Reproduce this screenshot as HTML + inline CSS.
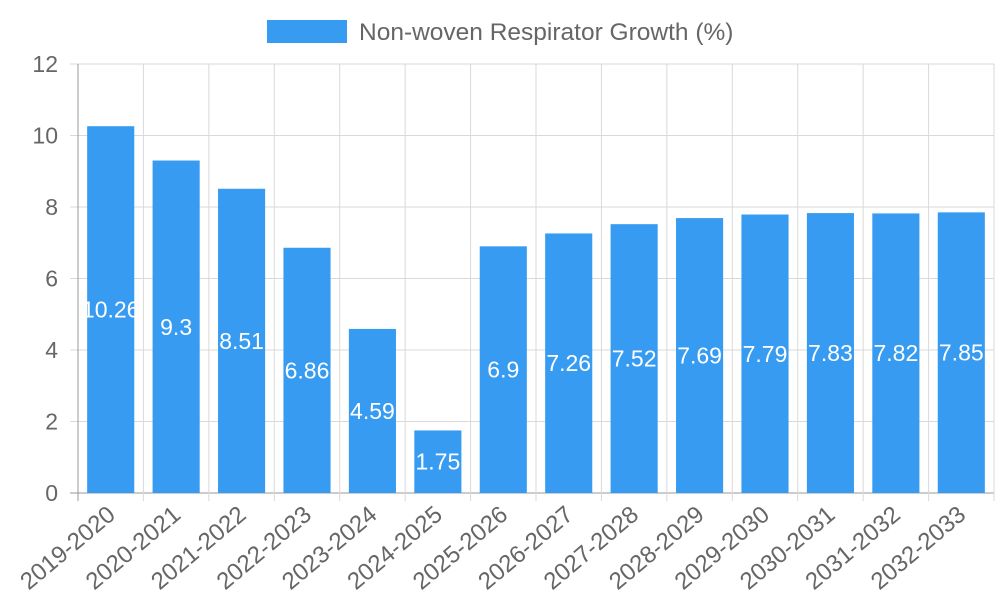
<!DOCTYPE html>
<html><head><meta charset="utf-8"><style>
body{margin:0;background:#fff;}
svg text{font-family:"Liberation Sans",sans-serif;}
</style></head><body>
<svg id="chart" width="1000" height="600">
<g id="grid"></g>
<g id="bars"></g>
<g id="axes"></g>
<g>
<rect x="267" y="20" width="80" height="23" fill="#379cf1"></rect>
<text x="359" y="40" font-size="24.5" fill="#666">Non-woven Respirator Growth (%)</text>
</g>
</svg>
<script>
const categories=["2019-2020","2020-2021","2021-2022","2022-2023","2023-2024","2024-2025","2025-2026","2026-2027","2027-2028","2028-2029","2029-2030","2030-2031","2031-2032","2032-2033"];
const values=[10.26,9.3,8.51,6.86,4.59,1.75,6.9,7.26,7.52,7.69,7.79,7.83,7.82,7.85];
const yTicks=[0,2,4,6,8,10,12];
const L=78,R=994,T=64,B=493,yMax=12;
const bw=(R-L)/categories.length;
const x=i=>L+bw*i;
const y=v=>B-(v/yMax)*(B-T);
const ns="http://www.w3.org/2000/svg";
function mk(tag,attrs,parent,txt){const e=document.createElementNS(ns,tag);for(const k in attrs)e.setAttribute(k,attrs[k]);if(txt!==undefined)e.textContent=txt;parent.appendChild(e);return e;}
const grid=document.getElementById('grid'),bars=document.getElementById('bars'),axes=document.getElementById('axes');
yTicks.forEach(t=>{
 const l=mk('line',{x1:L-8,x2:R,y1:y(t),y2:y(t),stroke:t===0?'#999':'#d9d9d9','stroke-width':1},grid);
 
 
 const tx=mk('text',{x:L-20,y:y(t)+8,'text-anchor':'end','font-size':23,fill:'#666'},axes,String(t));
 
 
});
for(let i=0;i<=categories.length;i++){
 const l=mk('line',{x1:x(i),x2:x(i),y1:T,y2:B+8,stroke:i===0?'#999':'#d9d9d9','stroke-width':1},grid);
 
 
}
categories.forEach((c,i)=>{
 const cx=x(i)+bw/2,w=bw*0.72;
 const r=mk('rect',{x:cx-w/2,y:y(values[i]),width:w,height:B-y(values[i]),fill:'#379cf1'},bars);
 
 
 const lb=mk('text',{x:cx,y:(y(values[i])+B)/2+8,'text-anchor':'middle','font-size':23,fill:'#fff'},bars,String(values[i]));
 
 
 const ax=cx+6,ay=B+24;
 const xl=mk('text',{x:ax,y:ay,'text-anchor':'end','font-size':24,fill:'#666',transform:`rotate(-40 ${ax} ${ay})`},axes,c);
 
 
});
</script>
</body></html>
